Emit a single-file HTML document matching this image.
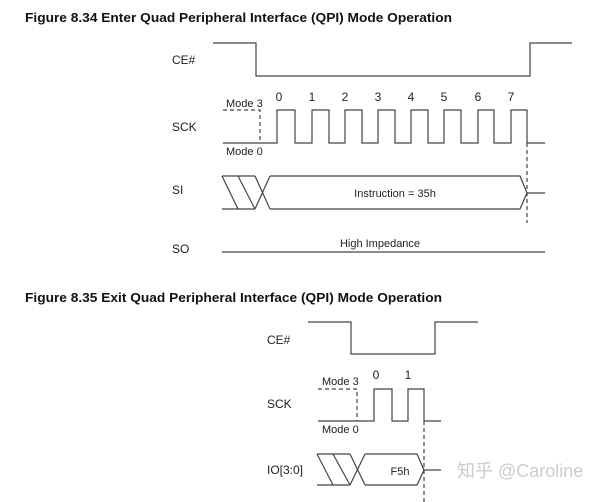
<!DOCTYPE html>
<html><head><style>html,body{margin:0;padding:0;background:#fff;}svg{display:block}</style></head>
<body>
<svg width="600" height="502" viewBox="0 0 600 502" xmlns="http://www.w3.org/2000/svg" font-family="Liberation Sans, Arial, sans-serif">
<g font-weight="bold" font-size="13" fill="#111">
<text x="25" y="22" textLength="427" lengthAdjust="spacingAndGlyphs">Figure 8.34 Enter Quad Peripheral Interface (QPI) Mode Operation</text>
<text x="25" y="302" textLength="417" lengthAdjust="spacingAndGlyphs">Figure 8.35 Exit Quad Peripheral Interface (QPI) Mode Operation</text>
</g>
<g font-size="12" fill="#222">
<text x="172" y="64">CE#</text>
<text x="172" y="131">SCK</text>
<text x="172" y="194">SI</text>
<text x="172" y="253">SO</text>
<text x="226" y="107" font-size="11">Mode 3</text>
<text x="226" y="155" font-size="11">Mode 0</text>
<g text-anchor="middle">
<text x="279" y="101">0</text><text x="312" y="101">1</text><text x="345" y="101">2</text><text x="378" y="101">3</text><text x="411" y="101">4</text><text x="444" y="101">5</text><text x="478" y="101">6</text><text x="511" y="101">7</text>
<text x="395" y="197" font-size="11">Instruction = 35h</text>
<text x="380" y="247" font-size="11">High Impedance</text>
</g>
<text x="267" y="344">CE#</text>
<text x="267" y="408">SCK</text>
<text x="267" y="474">IO[3:0]</text>
<text x="322" y="385" font-size="11">Mode 3</text>
<text x="322" y="433" font-size="11">Mode 0</text>
<text x="376" y="379" text-anchor="middle">0</text>
<text x="408" y="379" text-anchor="middle">1</text>
<text x="400" y="475" text-anchor="middle" font-size="11">F5h</text>
</g>
<text x="457" y="477" font-size="18" fill="#ccc" font-family="Liberation Sans, Noto Sans CJK SC, sans-serif">知乎 @Caroline</text>
<g fill="none" stroke="#444" stroke-width="1.2">
<polyline points="213,43 256,43 256,76 530,76 530,43 572,43"/>
<polyline points="223,143 277,143 277,110 295,110 295,143 312,143 312,110 329,110 329,143 345,143 345,110 362,110 362,143 378,143 378,110 395,110 395,143 411,143 411,110 428,110 428,143 444,143 444,110 461,110 461,143 478,143 478,110 494,110 494,143 511,143 511,110 527,110 527,143 545,143"/>
<polyline points="222,176 255,176"/><polyline points="222,209 255,209"/>
<line x1="222" y1="176" x2="238" y2="209"/><line x1="238" y1="176" x2="255" y2="209"/>
<line x1="255" y1="176" x2="270" y2="209"/><line x1="255" y1="209" x2="270" y2="176"/>
<polyline points="270,176 520,176 527,193 520,209 270,209"/>
<line x1="527" y1="193" x2="545" y2="193"/>
<line x1="222" y1="252" x2="545" y2="252"/>
<polyline points="308,322 351,322 351,354 435,354 435,322 478,322"/>
<polyline points="318,421 374,421 374,389 392,389 392,421 408,421 408,389 424,389 424,421 441,421"/>
<polyline points="317,454 350,454"/><polyline points="317,485 350,485"/>
<line x1="317" y1="454" x2="333" y2="485"/><line x1="333" y1="454" x2="350" y2="485"/>
<line x1="350" y1="454" x2="365" y2="485"/><line x1="350" y1="485" x2="365" y2="454"/>
<polyline points="365,454 417,454 424,470 417,485 365,485"/>
<line x1="424" y1="470" x2="441" y2="470"/>
</g>
<g fill="none" stroke="#444" stroke-width="1.2" stroke-dasharray="4,3">
<polyline points="223,110 260,110 260,143"/>
<line x1="527" y1="143" x2="527" y2="223"/>
<polyline points="318,389 357,389 357,421"/>
<line x1="424" y1="421" x2="424" y2="502"/>
</g>
</svg>
</body></html>
